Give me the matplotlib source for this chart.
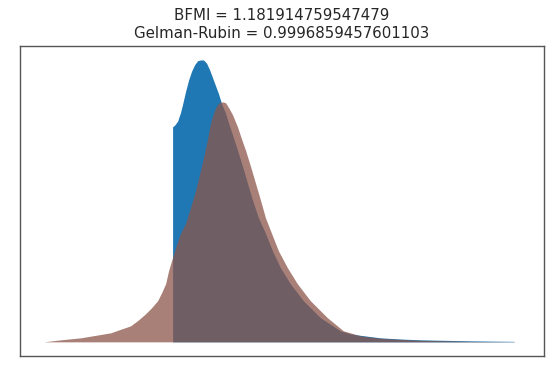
import matplotlib
matplotlib.use("Agg")
import matplotlib.pyplot as plt

# marginal energy density (truncated on the left)
marginal_x = [-1.40, -1.30, -1.15, -1.00, -0.90, -0.75, -0.60, -0.45, -0.30, -0.15,
              0.00, 0.15, 0.30, 0.45, 0.60, 0.75, 0.90, 1.05, 1.25, 1.40,
              1.60, 1.85, 2.10, 2.35, 2.60, 2.90, 3.25, 3.60, 4.00, 4.50,
              5.15, 6.00, 7.00, 7.50, 8.00, 9.00, 10.0, 11.0, 13.5, 15.7]
marginal_d = [0.267, 0.269, 0.274, 0.285, 0.295, 0.311, 0.325, 0.336, 0.344, 0.349,
              0.350, 0.350, 0.346, 0.338, 0.328, 0.318, 0.308, 0.296, 0.284, 0.272,
              0.257, 0.238, 0.218, 0.197, 0.176, 0.154, 0.135, 0.113, 0.092, 0.072,
              0.051, 0.030, 0.0137, 0.0100, 0.0081, 0.0050, 0.0035, 0.0025, 0.0012, 0.0006]

# energy transition density
trans_x = [-7.85, -7.00, -6.00, -5.25, -4.50, -4.00, -3.50, -3.10, -2.75, -2.45,
           -2.15, -1.95, -1.75, -1.60, -1.40, -1.20, -1.00, -0.75, -0.50, -0.25,
           -0.05, 0.15, 0.35, 0.50, 0.65, 0.80, 0.95, 1.10, 1.25, 1.40,
           1.60, 1.85, 2.05, 2.25, 2.50, 2.75, 3.00, 3.25, 3.55, 3.90,
           4.35, 4.85, 5.50, 6.35, 7.15, 8.00, 9.00, 10.0, 11.0, 13.5, 16.0]
trans_d = [0.0, 0.0025, 0.0050, 0.0081, 0.0112, 0.0156, 0.0199, 0.0274, 0.0349, 0.0424,
           0.0511, 0.061, 0.0722, 0.0884, 0.105, 0.121, 0.135, 0.147, 0.167, 0.188,
           0.208, 0.229, 0.252, 0.272, 0.284, 0.293, 0.297, 0.298, 0.297, 0.291,
           0.282, 0.267, 0.252, 0.238, 0.218, 0.197, 0.176, 0.154, 0.135, 0.113,
           0.092, 0.072, 0.051, 0.030, 0.0137, 0.0075, 0.0044, 0.0031, 0.0019, 0.0006, 0.0]

bfmi = "1.181914759547479"
gelman_rubin = "0.9996859457601103"

fig = plt.figure(figsize=(5.55, 3.7), dpi=100)
ax = fig.add_axes([0.036, 0.038, 0.944, 0.838])

ax.fill_between(marginal_x, marginal_d, color="C0", alpha=1.0, linewidth=0)
ax.fill_between(trans_x, trans_d, color="C5", alpha=0.75, linewidth=0)

ax.set_xticks([])
ax.set_yticks([])
for sp in ax.spines.values():
    sp.set_color("#555555")
    sp.set_linewidth(1.0)

ax.set_title(f"BFMI = {bfmi}\nGelman-Rubin = {gelman_rubin}", fontsize=10.8,
             color="#262626")

fig.savefig("out.png", dpi=100)
